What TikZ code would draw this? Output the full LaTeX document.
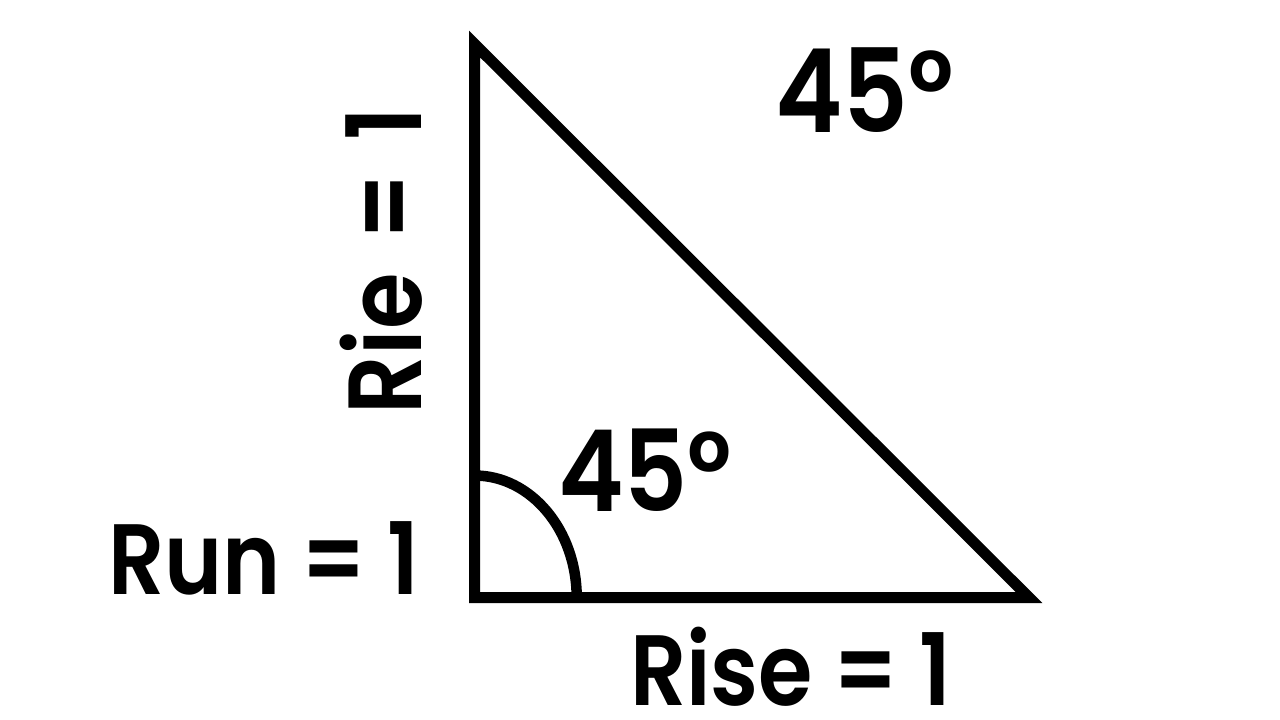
\documentclass[tikz,border=0pt]{standalone}
\usepackage{fontspec}
\setmainfont{Poppins}[UprightFont=* SemiBold,FakeStretch=0.88]
\begin{document}
\begin{tikzpicture}[x=1pt,y=-1pt,
  edge/.style={line width=11pt,line join=miter,miter limit=10},
  lbl/.style={inner sep=0pt,outer sep=0pt,text=black}]
\useasboundingbox[fill=white] (0,0) rectangle (1280,720);
\coordinate (A) at (474.5,44);
\coordinate (B) at (474.5,597.5);
\coordinate (C) at (1029,597.5);
\draw[edge] (A) -- (B) -- (C) -- cycle;
\coordinate (arcS) at (474.5,475.5);
\draw[line width=10.5pt] (arcS) arc[start angle=90,end angle=0,x radius=102.2,y radius=-122];
\node[lbl,anchor=base west,font=\fontsize{100}{100}\selectfont] (run) at (108,594) {Run = 1};
\node[lbl,anchor=base west,font=\fontsize{100}{100}\selectfont] (rise) at (630,705) {Rise = 1};
\node[lbl,anchor=base west,rotate=90,font=\fontsize{104}{104}\selectfont] (rie) at (421,414) {Rie\hspace{11pt} = \hspace{11pt}1};
\node[lbl,anchor=base west,font=\fontsize{116}{116}\selectfont] (t45) at (775,132) {45°};
\node[lbl,anchor=base west,font=\fontsize{113}{113}\selectfont] (m45) at (558,511) {45°};
\end{tikzpicture}
\end{document}
